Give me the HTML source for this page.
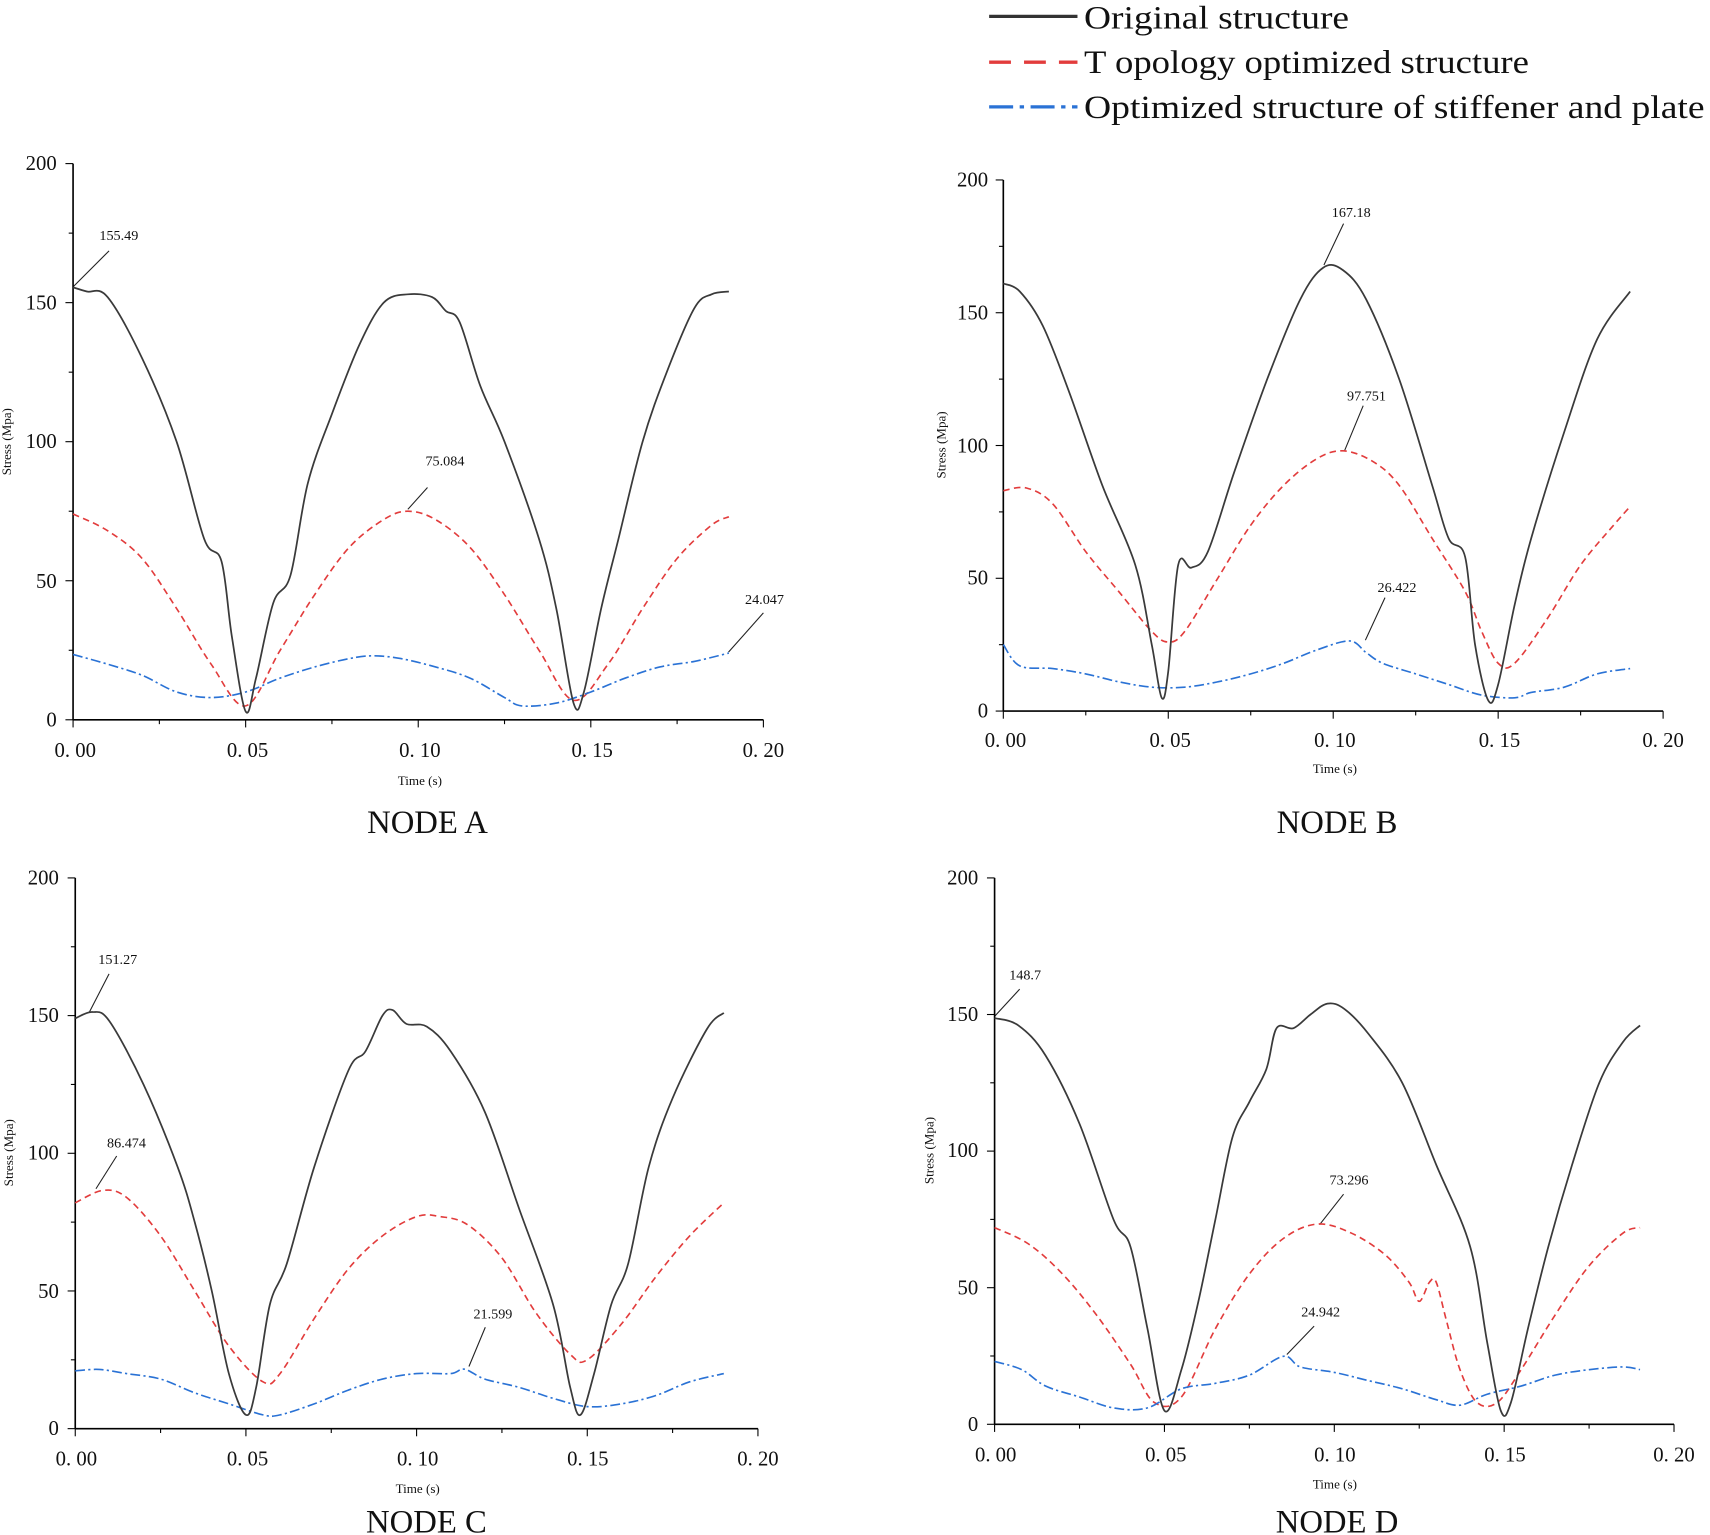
<!DOCTYPE html>
<html><head><meta charset="utf-8">
<style>
html,body{margin:0;padding:0;background:#fff;}
svg{display:block;}
text{font-family:"Liberation Serif",serif;fill:#111;}
</style></head>
<body>
<svg id="s" width="1710" height="1535" viewBox="0 0 1568 1407.5" xmlns="http://www.w3.org/2000/svg">
<rect width="1568" height="1408" fill="#fff"/>
<!-- legend -->
<line x1="907" y1="15" x2="988" y2="15" stroke="#333" stroke-width="3"/>
<text x="994" y="26" font-size="30" textLength="243" lengthAdjust="spacingAndGlyphs">Original structure</text>
<line x1="907" y1="57" x2="988" y2="57" stroke="#e23c3c" stroke-width="3" stroke-dasharray="20,12"/>
<text x="994" y="67" font-size="30" textLength="408" lengthAdjust="spacingAndGlyphs">T opology optimized structure</text>
<line x1="907" y1="98" x2="988" y2="98" stroke="#2a72d5" stroke-width="3" stroke-dasharray="22,6,4,6"/>
<text x="994" y="108" font-size="30" textLength="569" lengthAdjust="spacingAndGlyphs">Optimized structure of stiffener and plate</text>

<text x="392" y="764" font-size="30" text-anchor="middle">NODE A</text>
<text x="1226" y="764" font-size="30" text-anchor="middle">NODE B</text>
<text x="391" y="1405" font-size="30" text-anchor="middle">NODE C</text>
<text x="1226" y="1405" font-size="30" text-anchor="middle">NODE D</text>

<g font-size="19" text-anchor="end">
<text x="52" y="666">0</text><text x="52" y="539">50</text><text x="52" y="411">100</text><text x="52" y="284">150</text><text x="52" y="156">200</text>
<text x="906" y="658">0</text><text x="906" y="536">50</text><text x="906" y="415">100</text><text x="906" y="293">150</text><text x="906" y="171">200</text>
<text x="54" y="1316">0</text><text x="54" y="1190">50</text><text x="54" y="1063">100</text><text x="54" y="937">150</text><text x="54" y="811">200</text>
<text x="897" y="1312">0</text><text x="897" y="1187">50</text><text x="897" y="1061">100</text><text x="897" y="936">150</text><text x="897" y="811">200</text>
</g>
<g font-size="19" text-anchor="middle">
<text x="69" y="694">0. 00</text><text x="227" y="694">0. 05</text><text x="385" y="694">0. 10</text><text x="543" y="694">0. 15</text><text x="700" y="694">0. 20</text>
<text x="922" y="685">0. 00</text><text x="1073" y="685">0. 05</text><text x="1224" y="685">0. 10</text><text x="1375" y="685">0. 15</text><text x="1525" y="685">0. 20</text>
<text x="70" y="1344">0. 00</text><text x="227" y="1344">0. 05</text><text x="383" y="1344">0. 10</text><text x="539" y="1344">0. 15</text><text x="695" y="1344">0. 20</text>
<text x="913" y="1340">0. 00</text><text x="1069" y="1340">0. 05</text><text x="1224" y="1340">0. 10</text><text x="1380" y="1340">0. 15</text><text x="1535" y="1340">0. 20</text>
</g>
<g font-size="12" text-anchor="middle">
<text x="385" y="720">Time (s)</text>
<text x="1224" y="709">Time (s)</text>
<text x="383" y="1369">Time (s)</text>
<text x="1224" y="1365">Time (s)</text>
<text transform="translate(10,405) rotate(-90)">Stress (Mpa)</text>
<text transform="translate(867,408) rotate(-90)">Stress (Mpa)</text>
<text transform="translate(12,1057) rotate(-90)">Stress (Mpa)</text>
<text transform="translate(856,1055) rotate(-90)">Stress (Mpa)</text>
</g>
<g font-size="13" text-anchor="middle">
<text x="109" y="220">155.49</text><text x="408" y="427">75.084</text><text x="701" y="554">24.047</text>
<text x="1239" y="199">167.18</text><text x="1253" y="367">97.751</text><text x="1281" y="543">26.422</text>
<text x="108" y="884">151.27</text><text x="116" y="1052">86.474</text><text x="452" y="1209">21.599</text>
<text x="940" y="898">148.7</text><text x="1237" y="1086">73.296</text><text x="1211" y="1207">24.942</text>
</g>
<g stroke="#222" stroke-width="1">
<line x1="67" y1="263" x2="100" y2="230"/><line x1="374" y1="467" x2="392" y2="447"/><line x1="668" y1="598" x2="700" y2="562"/>
<line x1="1214" y1="243" x2="1232" y2="205"/><line x1="1233" y1="413" x2="1250" y2="372"/><line x1="1252" y1="587" x2="1270" y2="548"/>
<line x1="82" y1="928" x2="100" y2="893"/><line x1="88" y1="1090" x2="107" y2="1060"/><line x1="430" y1="1253" x2="445" y2="1217"/>
<line x1="912" y1="932" x2="935" y2="907"/><line x1="1210" y1="1123" x2="1232" y2="1095"/><line x1="1180" y1="1242" x2="1205" y2="1216"/>
</g>
<g id="dyn"></g>
</svg>
<script>
var P=[
{x0:67,x1:700,y0:660,y1:150,
k:[[0,155.5],[0.004,154],[0.01,152],[0.02,130],[0.03,100],[0.038,65],[0.043,57],[0.046,30],[0.05,3],[0.053,15],[0.058,42],[0.063,52],[0.068,85],[0.075,110],[0.083,135],[0.09,150],[0.097,153],[0.104,152],[0.108,147],[0.112,143],[0.118,120],[0.125,100],[0.135,65],[0.14,40],[0.145,6],[0.148,10],[0.153,40],[0.158,65],[0.165,100],[0.172,125],[0.18,148],[0.185,153],[0.19,154]],
r:[[0,74],[0.01,68],[0.02,58],[0.03,40],[0.04,20],[0.05,5],[0.06,25],[0.07,45],[0.08,62],[0.09,72],[0.097,75],[0.105,72],[0.115,62],[0.125,45],[0.135,25],[0.145,7],[0.155,20],[0.165,40],[0.175,58],[0.185,70],[0.19,73]],
b:[[0,23.5],[0.01,20],[0.02,16],[0.03,10],[0.04,8],[0.05,10],[0.06,15],[0.07,19],[0.08,22],[0.087,23],[0.095,22],[0.105,19],[0.115,15],[0.125,8],[0.13,5],[0.14,6],[0.15,10],[0.16,15],[0.17,19],[0.18,21],[0.19,24]]},
{x0:920,x1:1525,y0:652,y1:165,
k:[[0,161],[0.005,158],[0.012,145],[0.02,120],[0.03,85],[0.04,55],[0.045,25],[0.048,5],[0.05,15],[0.053,55],[0.057,54],[0.062,60],[0.07,90],[0.08,125],[0.09,155],[0.097,167],[0.103,166],[0.11,155],[0.12,125],[0.13,85],[0.135,65],[0.14,58],[0.143,25],[0.147,4],[0.15,10],[0.155,40],[0.16,65],[0.17,105],[0.18,140],[0.19,158]],
r:[[0,83],[0.007,84],[0.015,78],[0.025,60],[0.035,45],[0.045,30],[0.05,26],[0.055,30],[0.065,50],[0.075,70],[0.085,85],[0.095,95],[0.103,98],[0.112,94],[0.12,85],[0.13,65],[0.14,45],[0.145,30],[0.15,18],[0.155,18],[0.165,35],[0.175,55],[0.185,70],[0.19,77]],
b:[[0,25],[0.005,17],[0.015,16],[0.025,14],[0.035,11],[0.045,9],[0.055,9],[0.065,11],[0.075,14],[0.085,18],[0.095,23],[0.105,26.4],[0.11,22],[0.115,18],[0.125,14],[0.135,10],[0.145,6],[0.155,5],[0.16,7],[0.17,9],[0.18,14],[0.19,16]]},
{x0:69,x1:695,y0:1310,y1:805,
k:[[0,149],[0.005,151.3],[0.01,148],[0.02,125],[0.03,95],[0.035,75],[0.04,50],[0.045,20],[0.05,5],[0.053,15],[0.057,45],[0.062,60],[0.07,95],[0.08,130],[0.085,137],[0.09,150],[0.093,152],[0.097,147],[0.103,146],[0.11,137],[0.12,115],[0.13,80],[0.14,45],[0.145,15],[0.148,5],[0.152,20],[0.157,45],[0.162,60],[0.168,95],[0.175,120],[0.185,145],[0.19,151]],
r:[[0,82],[0.008,86.5],[0.015,84],[0.025,70],[0.035,50],[0.045,30],[0.055,17],[0.06,20],[0.07,40],[0.08,58],[0.09,70],[0.1,77],[0.107,77],[0.115,74],[0.125,62],[0.135,42],[0.145,27],[0.15,25],[0.16,38],[0.17,55],[0.18,70],[0.19,82]],
b:[[0,21],[0.007,21.5],[0.015,20],[0.025,18],[0.035,13],[0.045,9],[0.055,5],[0.06,5],[0.07,9],[0.08,14],[0.09,18],[0.1,20],[0.11,20],[0.114,21.6],[0.12,18],[0.13,15],[0.14,11],[0.15,8],[0.16,9],[0.17,12],[0.18,17],[0.19,20]]},
{x0:912,x1:1535,y0:1306,y1:805,
k:[[0,148.7],[0.007,146],[0.015,135],[0.025,110],[0.035,75],[0.04,65],[0.045,35],[0.05,5],[0.055,20],[0.06,45],[0.065,75],[0.07,105],[0.075,118],[0.08,130],[0.083,145],[0.088,145],[0.093,150],[0.098,154],[0.103,152],[0.11,143],[0.12,125],[0.13,95],[0.14,65],[0.145,30],[0.149,5],[0.152,8],[0.157,35],[0.163,65],[0.17,95],[0.178,125],[0.185,140],[0.19,146]],
r:[[0,72],[0.01,66],[0.02,55],[0.03,40],[0.04,22],[0.047,8],[0.055,10],[0.065,35],[0.075,55],[0.085,68],[0.095,73.3],[0.105,70],[0.115,62],[0.122,52],[0.125,45],[0.128,52],[0.13,52],[0.133,38],[0.137,20],[0.142,8],[0.148,8],[0.155,20],[0.165,40],[0.175,58],[0.185,70],[0.19,72]],
b:[[0,23],[0.008,20],[0.015,14],[0.025,10],[0.035,6],[0.045,6],[0.055,13],[0.065,15],[0.075,18],[0.085,24.9],[0.09,21],[0.1,19],[0.11,16],[0.12,13],[0.13,9],[0.137,7],[0.145,11],[0.155,14],[0.165,18],[0.175,20],[0.185,21],[0.19,20]]}
];
var h='';
P.forEach(function(p){
 function X(t){return p.x0+(p.x1-p.x0)*t/0.2;}
 function Y(v){return p.y0-(p.y0-p.y1)*v/200;}
 function path(d){
  var pts=d.map(function(a){return [X(a[0]),Y(a[1])];});
  var s='M'+pts[0][0]+','+pts[0][1];
  for(var i=0;i<pts.length-1;i++){
   var p0=pts[i-1]||pts[i],p1=pts[i],p2=pts[i+1],p3=pts[i+2]||p2;
   var c1x=p1[0]+(p2[0]-p0[0])/6,c1y=p1[1]+(p2[1]-p0[1])/6;
   var c2x=p2[0]-(p3[0]-p1[0])/6,c2y=p2[1]-(p3[1]-p1[1])/6;
   s+=' C'+c1x+','+c1y+' '+c2x+','+c2y+' '+p2[0]+','+p2[1];
  }
  return s;
 }
 h+='<line x1="'+p.x0+'" y1="'+p.y0+'" x2="'+p.x1+'" y2="'+p.y0+'" stroke="#000" stroke-width="1.5"/>';
 h+='<line x1="'+p.x0+'" y1="'+p.y0+'" x2="'+p.x0+'" y2="'+p.y1+'" stroke="#000" stroke-width="1.5"/>';
 for(var i=0;i<=8;i++){var y=p.y0-(p.y0-p.y1)*i/8;var L=i%2?4:7;
  h+='<line x1="'+(p.x0-L)+'" y1="'+y+'" x2="'+p.x0+'" y2="'+y+'" stroke="#000"/>';}
 for(var i=0;i<=8;i++){var x=p.x0+(p.x1-p.x0)*i/8;var L=i%2?4:7;
  h+='<line x1="'+x+'" y1="'+p.y0+'" x2="'+x+'" y2="'+(p.y0+L)+'" stroke="#000"/>';}
 h+='<path d="'+path(p.r)+'" fill="none" stroke="#e23c3c" stroke-width="1.5" stroke-dasharray="6,4"/>';
 h+='<path d="'+path(p.b)+'" fill="none" stroke="#2a72d5" stroke-width="1.5" stroke-dasharray="9,3,2,3"/>';
 h+='<path d="'+path(p.k)+'" fill="none" stroke="#3a3a3a" stroke-width="1.6"/>';
});
document.getElementById('dyn').innerHTML=h;
</script>
</body></html>
